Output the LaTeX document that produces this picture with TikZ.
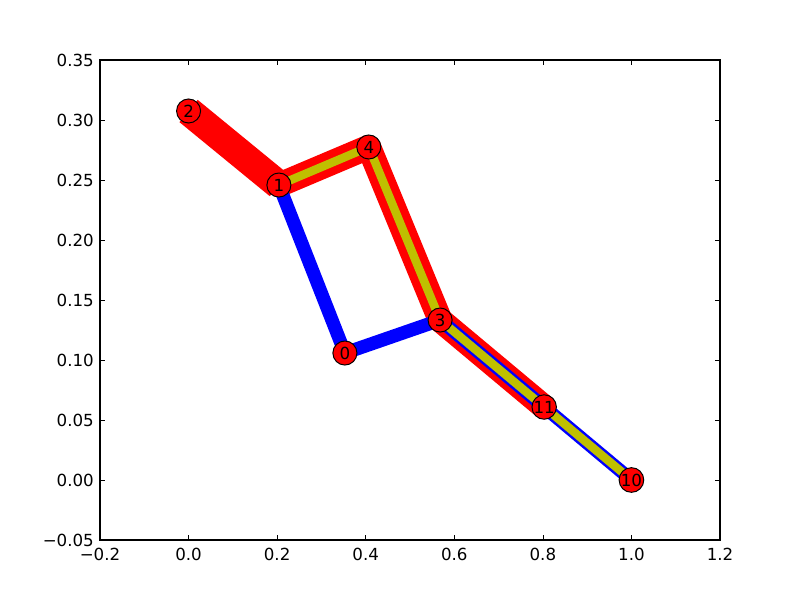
\documentclass[tikz,border=0pt]{standalone}
\usepackage{fontspec}
\setmainfont{DejaVu Sans}
\usetikzlibrary{calc}

\definecolor{olivey}{rgb}{0.75,0.75,0}

\begin{document}
\begin{tikzpicture}[x=11.0714cm,y=30cm,
    vertex/.style={circle,draw=black,line width=0.7pt,fill=red,
      minimum size=17.1pt,inner sep=0pt,font=\fontsize{11.85}{12}\selectfont},
    ticklbl/.style={inner sep=0pt,font=\fontsize{11.85}{12}\selectfont},
    wide/.style={draw=red,line width=20.5pt},
    redline/.style={draw=red,line width=17.5pt},
    blueline/.style={draw=blue,line width=9.5pt},
    yline/.style={draw=olivey,line width=6pt}]
  \useasboundingbox (-0.425806,-0.1) rectangle (1.380645,0.4);

  % node positions
  \coordinate (p0) at (0.353,0.1058);
  \coordinate (p1) at (0.204,0.2458);
  \coordinate (p2) at (0.000,0.3075);
  \coordinate (p3) at (0.568,0.1333);
  \coordinate (p4) at (0.407,0.2775);
  \coordinate (p10) at (1.000,0.0000);
  \coordinate (p11) at (0.803,0.0608);

  % edges
  \draw[wide] (p2) -- (p1);
  \draw[redline] (p1) -- (p4);
  \draw[redline] (p4) -- (p3);
  \draw[redline] (p3) -- (p11);
  \draw[blueline] (p1) -- (p0);
  \draw[blueline] (p0) -- (p3);
  \draw[blueline] (p3) -- (p11);
  \draw[blueline] (p11) -- (p10);
  \draw[yline] (p1) -- (p4);
  \draw[yline] (p4) -- (p3);
  \draw[yline] (p3) -- (p11);
  \draw[yline] (p11) -- (p10);

  % vertices
  \node[vertex] (v0) at (p0) {0};
  \node[vertex] (v1) at (p1) {1};
  \node[vertex] (v2) at (p2) {2};
  \node[vertex] (v3) at (p3) {3};
  \node[vertex] (v4) at (p4) {4};
  \node[vertex] (v10) at (p10) {10};
  \node[vertex] (v11) at (p11) {11};

  % axes
  \foreach \x/\lbl in {-0.2/−0.2,0.0/0.0,0.2/0.2,0.4/0.4,0.6/0.6,0.8/0.8,1.0/1.0,1.2/1.2} {
    \draw[line width=0.5pt] (\x,-0.05) -- ++(0,3.9pt);
    \draw[line width=0.5pt] (\x,0.35) -- ++(0,-3.9pt);
    \node[ticklbl,anchor=north] at ($(\x,-0.05)+(0,-5.7pt)$) {\lbl};
  }
  \foreach \y/\lbl in {-0.05/−0.05,0.00/0.00,0.05/0.05,0.10/0.10,0.15/0.15,
      0.20/0.20,0.25/0.25,0.30/0.30,0.35/0.35} {
    \draw[line width=0.5pt] (-0.2,\y) -- ++(3.9pt,0);
    \draw[line width=0.5pt] (1.2,\y) -- ++(-3.9pt,0);
    \node[ticklbl,anchor=east] at ($(-0.2,\y)+(-4.2pt,0)$) {\lbl};
  }
  \draw[line width=0.9pt] (-0.2,-0.05) rectangle (1.2,0.35);
\end{tikzpicture}
\end{document}
